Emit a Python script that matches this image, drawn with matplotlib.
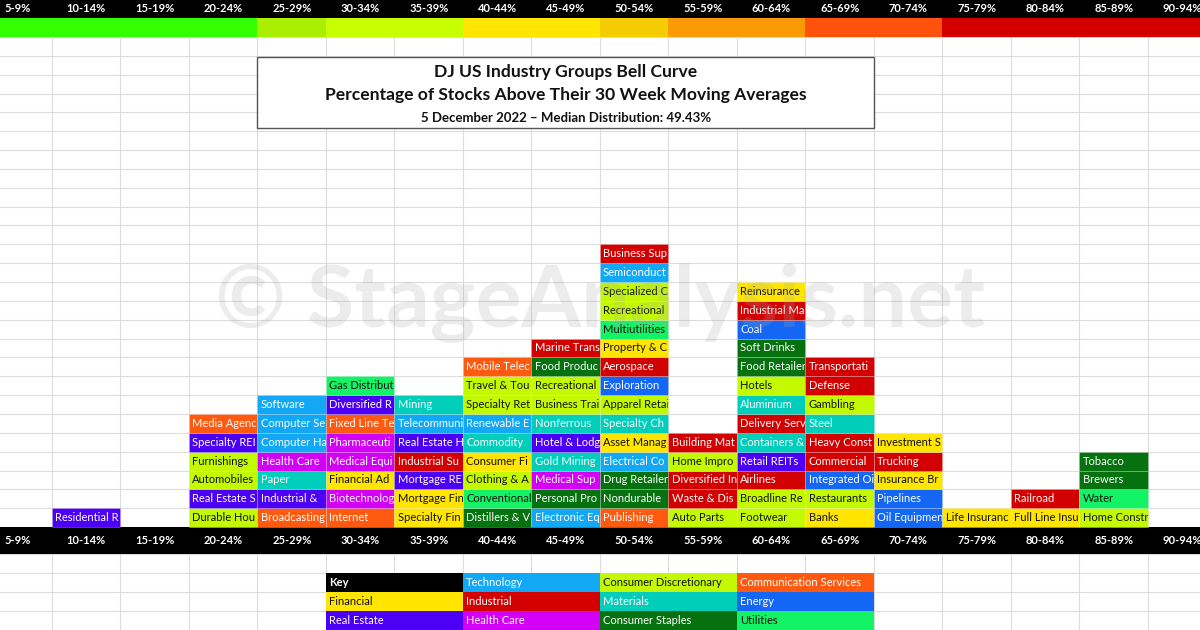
import matplotlib
matplotlib.use("Agg")
import matplotlib.pyplot as plt
from matplotlib.patches import Rectangle
from matplotlib.transforms import Bbox, TransformedBbox

plt.rcParams['font.family'] = ['Lato', 'DejaVu Sans']

# ---- data -------------------------------------------------------------
bins = ["5-9%", "10-14%", "15-19%", "20-24%", "25-29%", "30-34%", "35-39%",
        "40-44%", "45-49%", "50-54%", "55-59%", "60-64%", "65-69%", "70-74%",
        "75-79%", "80-84%", "85-89%", "90-94%"]

band_colors = ["#33FF00", "#33FF00", "#33FF00", "#33FF00", "#AAEE00", "#C8FF00",
               "#C8FF00", "#FFE500", "#FFE500", "#F5CC00", "#FA9A05", "#FA9A05",
               "#FF520A", "#FF520A", "#D40000", "#D40000", "#D40000", "#D40000"]

sector_colors = {
    "TECH": "#12A8F5", "CD": "#C4FA00", "COM": "#FF5A10", "FIN": "#FFE500",
    "IND": "#D20000", "MAT": "#00CDBA", "EN": "#1466F5", "RE": "#4B00F5",
    "HC": "#D200F5", "CS": "#05720F", "UTIL": "#14F266", "KEY": "#000000",
}
dark_text = {"CD", "FIN", "UTIL"}

# industry groups per bin, listed bottom -> top
b5_9 = []
b10_14 = [("Residential REITs", "RE")]
b15_19 = []
b20_24 = [("Durable Household Products", "CD"), ("Real Estate Services", "RE"),
          ("Automobiles", "CD"), ("Furnishings", "CD"), ("Specialty REITs", "RE"),
          ("Media Agencies", "COM")]
b25_29 = [("Broadcasting & Entertainment", "COM"), ("Industrial & Office REITs", "RE"),
          ("Paper", "MAT"), ("Health Care Providers", "HC"), ("Computer Hardware", "TECH"),
          ("Computer Services", "TECH"), ("Software", "TECH")]
b30_34 = [("Internet", "COM"), ("Biotechnology", "HC"), ("Financial Administration", "FIN"),
          ("Medical Equipment", "HC"), ("Pharmaceuticals", "HC"),
          ("Fixed Line Telecommunications", "COM"), ("Diversified REITs", "RE"),
          ("Gas Distribution", "UTIL")]
b35_39 = [("Specialty Finance", "FIN"), ("Mortgage Finance", "FIN"), ("Mortgage REITs", "RE"),
          ("Industrial Suppliers", "IND"), ("Real Estate Holding & Development", "RE"),
          ("Telecommunications Equipment", "TECH"), ("Mining", "MAT")]
b40_44 = [("Distillers & Vintners", "CS"), ("Conventional Electricity", "UTIL"),
          ("Clothing & Accessories", "CD"), ("Consumer Finance", "FIN"),
          ("Commodity Chemicals", "MAT"), ("Renewable Energy Equipment", "TECH"),
          ("Specialty Retailers", "CD"), ("Travel & Tourism", "CD"),
          ("Mobile Telecommunications", "COM")]
b45_49 = [("Electronic Equipment", "TECH"), ("Personal Products", "CS"),
          ("Medical Supplies", "HC"), ("Gold Mining", "MAT"), ("Hotel & Lodging REITs", "RE"),
          ("Nonferrous Metals", "MAT"), ("Business Training & Employment", "CD"),
          ("Recreational Products", "CD"), ("Food Products", "CS"),
          ("Marine Transportation", "IND")]
b50_54 = [("Publishing", "COM"), ("Nondurable Household Products", "CS"),
          ("Drug Retailers", "CS"), ("Electrical Components & Equipment", "TECH"),
          ("Asset Managers", "FIN"), ("Specialty Chemicals", "MAT"), ("Apparel Retailers", "CD"),
          ("Exploration & Production", "EN"), ("Aerospace", "IND"),
          ("Property & Casualty Insurance", "FIN"), ("Multiutilities", "UTIL"),
          ("Recreational Services", "CD"), ("Specialized Consumer Services", "CD"),
          ("Semiconductors", "TECH"), ("Business Support Services", "IND")]
b55_59 = [("Auto Parts", "CD"), ("Waste & Disposal Services", "IND"),
          ("Diversified Industrials", "IND"), ("Home Improvement Retailers", "CD"),
          ("Building Materials & Fixtures", "IND")]
b60_64 = [("Footwear", "CD"), ("Broadline Retailers", "CD"), ("Airlines", "IND"),
          ("Retail REITs", "RE"), ("Containers & Packaging", "MAT"), ("Delivery Services", "IND"),
          ("Aluminium", "MAT"), ("Hotels", "CD"), ("Food Retailers & Wholesalers", "CS"),
          ("Soft Drinks", "CS"), ("Coal", "EN"), ("Industrial Machinery", "IND"),
          ("Reinsurance", "FIN")]
b65_69 = [("Banks", "FIN"), ("Restaurants & Bars", "CD"), ("Integrated Oil & Gas", "EN"),
          ("Commercial Vehicles & Trucks", "IND"), ("Heavy Construction", "IND"),
          ("Steel", "MAT"), ("Gambling", "CD"), ("Defense", "IND"),
          ("Transportation Services", "IND")]
b70_74 = [("Oil Equipment & Services", "EN"), ("Pipelines", "EN"),
          ("Insurance Brokers", "FIN"), ("Trucking", "IND"), ("Investment Services", "FIN")]
b75_79 = [("Life Insurance", "FIN")]
b80_84 = [("Full Line Insurance", "FIN"), ("Railroad", "IND")]
b85_89 = [("Home Construction", "CD"), ("Water", "UTIL"), ("Brewers", "CS"), ("Tobacco", "CS")]
b90_94 = []

stacks = [b5_9, b10_14, b15_19, b20_24, b25_29, b30_34, b35_39, b40_44, b45_49,
          b50_54, b55_59, b60_64, b65_69, b70_74, b75_79, b80_84, b85_89, b90_94]

key_labels = [["Key", "Technology", "Consumer Discretionary", "Communication Services"],
              ["Financial", "Industrial", "Materials", "Energy"],
              ["Real Estate", "Health Care", "Consumer Staples", "Utilities"]]
key_sectors = [["KEY", "TECH", "CD", "COM"],
               ["FIN", "IND", "MAT", "EN"],
               ["RE", "HC", "CS", "UTIL"]]

title1 = "DJ US Industry Groups Bell Curve"
title2 = "Percentage of Stocks Above Their 30 Week Moving Averages"
subtitle = "5 December 2022 \u2013 Median Distribution: 49.43%"

# ---- figure -----------------------------------------------------------
fig = plt.figure(figsize=(12, 6.3), dpi=100)
ax = fig.add_axes([0, 0, 1, 1])
ax.set_xlim(-0.259, 17.26)
ax.set_ylim(-5.46, 27.96)
ax.axis('off')
renderer = fig.canvas.get_renderer()

grid = "#DCDCDC"
ncols = len(bins)

# spreadsheet grid
for i in range(ncols + 1):
    ax.plot([i - 0.5, i - 0.5], [-5.46, 26], color=grid, lw=0.8, zorder=0)
for r in range(27):
    ax.plot([-0.5, 17.5], [r, r], color=grid, lw=0.8, zorder=0)
for yy in [-1.43, -2.44, -3.45, -4.46]:
    ax.plot([-0.5, 17.5], [yy, yy], color=grid, lw=0.8, zorder=0)


def cell_text(x0, y0, w, h, s, color, **kw):
    # like a spreadsheet cell: text is cut off at the right edge of the cell
    t = ax.text(x0 + 0.045, y0 + h / 2, s, color=color, va='center', ha='left',
                fontsize=8.0, zorder=4, **kw)
    right = ax.transData.transform((x0 + w, y0))[0]
    while len(s) > 1 and t.get_window_extent(renderer).x1 > right + 1:
        s = s[:-1].rstrip()
        t.set_text(s)
    t.set_clip_box(TransformedBbox(Bbox([[x0, y0], [x0 + w, y0 + h]]), ax.transData))
    t.set_clip_on(True)
    return t


# top header + colour band, bottom label band
for i, lab in enumerate(bins):
    ax.add_patch(Rectangle((i - 0.5, 27.0), 1, 0.96, facecolor="black", lw=0, zorder=2))
    ax.add_patch(Rectangle((i - 0.5, 26.0), 1, 1.0, facecolor=band_colors[i], lw=0, zorder=2))
    ax.add_patch(Rectangle((i - 0.5, -1.43), 1, 1.43, facecolor="black", lw=0, zorder=2))
    ax.text(i, 27.5, lab, color="white", fontsize=8, fontweight='bold',
            ha='center', va='center', zorder=3)
    ax.text(i, -0.7, lab, color="white", fontsize=8, fontweight='bold',
            ha='center', va='center', zorder=3)

# the bell curve stacks
for i, stack in enumerate(stacks):
    for r, (name, sec) in enumerate(stack):
        ax.add_patch(Rectangle((i - 0.5, r), 1, 1, facecolor=sector_colors[sec],
                               edgecolor=(1, 1, 1, 0.3), lw=0.5, zorder=2))
        tc = "#111111" if sec in dark_text else "white"
        cell_text(i - 0.5, r, 1, 1, name, tc)

# key
key_top = -2.44
key_h = 1.01
for row in range(3):
    for c in range(4):
        x0 = 4.5 + 2 * c
        y0 = key_top - (row + 1) * key_h
        sec = key_sectors[row][c]
        ax.add_patch(Rectangle((x0, y0), 2, key_h, facecolor=sector_colors[sec],
                               lw=0, zorder=2))
        tc = "#111111" if sec in dark_text else "white"
        kw = {'fontweight': 'bold'} if sec == "KEY" else {}
        cell_text(x0, y0, 2, key_h, key_labels[row][c], tc, **kw)

# title box
ax.add_patch(Rectangle((3.5, 21.15), 9.0, 3.78, facecolor="white", edgecolor="#555555",
                       lw=1.0, zorder=5))
ax.text(8.0, 24.14, title1, fontsize=12.6, fontweight='bold', ha='center', va='center',
        color="#111111", zorder=6)
ax.text(8.0, 22.92, title2, fontsize=12.6, fontweight='bold', ha='center', va='center',
        color="#111111", zorder=6)
ax.text(8.0, 21.72, subtitle, fontsize=9.5, fontweight='bold', ha='center', va='center',
        color="#111111", zorder=6)

# watermark
ax.text(8.5, 11.9, "\u00a9 StageAnalysis.net", fontsize=62, fontweight='bold',
        ha='center', va='center', color="#AAAAAA", alpha=0.22, zorder=7)

fig.savefig("out.png", dpi=100)
